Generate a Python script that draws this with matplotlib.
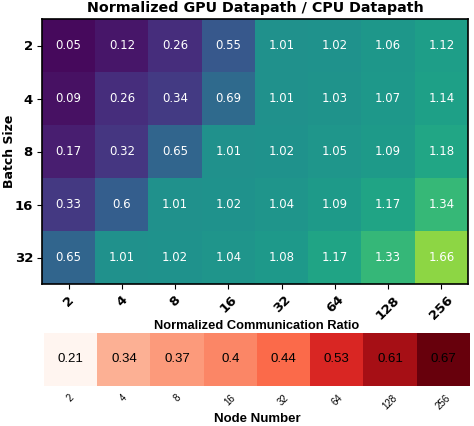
import numpy as np
import matplotlib.pyplot as plt

batch_sizes = ['2', '4', '8', '16', '32']
node_numbers = ['2', '4', '8', '16', '32', '64', '128', '256']
gpu_cpu_ratio = np.array([
    [0.05, 0.12, 0.26, 0.55, 1.01, 1.02, 1.06, 1.12],
    [0.09, 0.26, 0.34, 0.69, 1.01, 1.03, 1.07, 1.14],
    [0.17, 0.32, 0.65, 1.01, 1.02, 1.05, 1.09, 1.18],
    [0.33, 0.6, 1.01, 1.02, 1.04, 1.09, 1.17, 1.34],
    [0.65, 1.01, 1.02, 1.04, 1.08, 1.17, 1.33, 1.66],
])
comm_ratio = np.array([0.21, 0.34, 0.37, 0.4, 0.44, 0.53, 0.61, 0.67])

fig = plt.figure(figsize=(4.74, 4.26), dpi=100)
ax1 = fig.add_axes([42 / 474, 1 - 284 / 426, 426 / 474, 265 / 426])
ax2 = fig.add_axes([44 / 474, 1 - 386 / 426, 426 / 474, 53 / 426])

# top heatmap
ax1.imshow(gpu_cpu_ratio, cmap='viridis', vmin=0, vmax=2, aspect='auto')
for i in range(len(batch_sizes)):
    for j in range(len(node_numbers)):
        ax1.text(j, i, gpu_cpu_ratio[i, j], ha='center', va='center',
                 color='white', fontsize=8.5)
ax1.set_xticks(np.arange(len(node_numbers)))
ax1.set_xticklabels(node_numbers, rotation=45, fontsize=9.5, fontweight='bold')
ax1.set_yticks(np.arange(len(batch_sizes)))
ax1.set_yticklabels(batch_sizes, fontsize=9.5, fontweight='bold')
ax1.tick_params(length=3.5, pad=3)
ax1.set_ylabel('Batch Size', fontsize=9, fontweight='bold')
ax1.yaxis.set_label_coords(-0.062, 0.5)
ax1.set_title('Normalized GPU Datapath / CPU Datapath', fontsize=10.3,
              fontweight='bold', pad=5)
for s in ax1.spines.values():
    s.set_linewidth(1.2)

# bottom heatmap
ax2.imshow(comm_ratio[np.newaxis, :], cmap='Reds', aspect='auto')
for j in range(len(node_numbers)):
    ax2.text(j, 0, comm_ratio[j], ha='center', va='center', color='black',
             fontsize=9.5, family='Liberation Sans')
ax2.set_xticks(np.arange(len(node_numbers)))
ax2.set_xticklabels(node_numbers, rotation=45, fontsize=7,
                    family='Liberation Sans')
ax2.tick_params(axis='x', length=0, pad=5)
ax2.set_yticks([])
ax2.set_xlabel('Node Number', fontsize=9.5, fontweight='bold',
               family='Liberation Sans', labelpad=1)
ax2.set_title('Normalized Communication Ratio', fontsize=9.3, fontweight='bold',
              family='Liberation Sans', pad=3)
for s in ax2.spines.values():
    s.set_visible(False)

fig.savefig('out.png', dpi=100)
